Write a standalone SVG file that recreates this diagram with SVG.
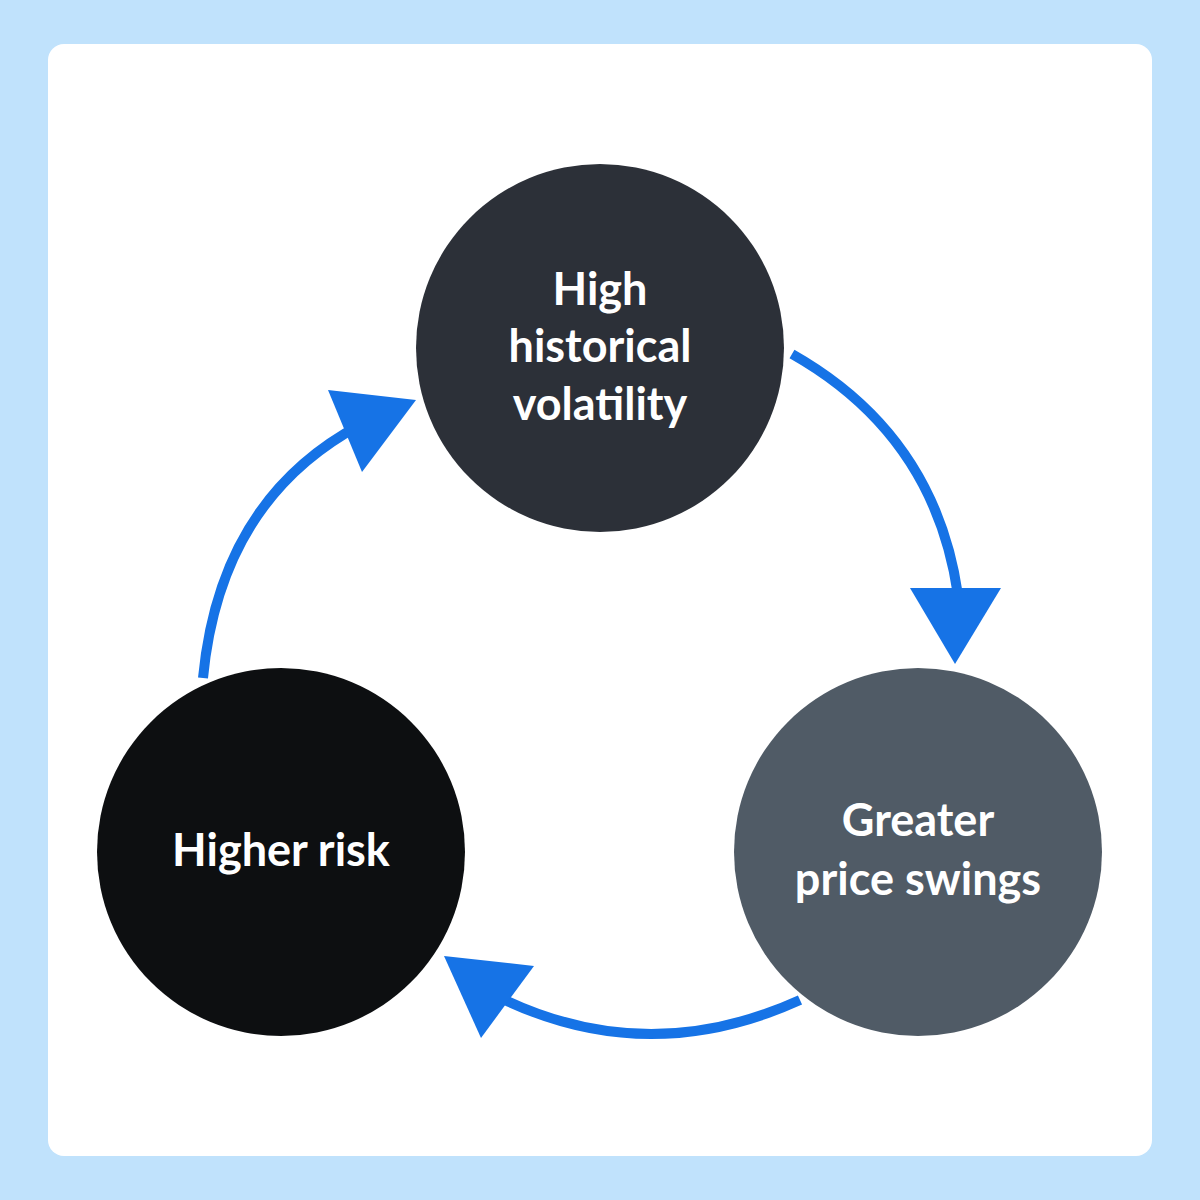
<svg xmlns="http://www.w3.org/2000/svg" width="1200" height="1200" viewBox="0 0 1200 1200">
<style>
.t{font-family:Lato,"Open Sans",sans-serif;font-weight:bold;font-size:45px;fill:#fff;text-anchor:middle}
.c{fill:none;stroke:#1673e6;stroke-width:10}
.h{fill:#1673e6}
</style>
<rect width="1200" height="1200" fill="#c0e2fc"/>
<rect x="48" y="44" width="1104" height="1112" rx="16" fill="#fff"/>
<g id="connectors">
<path class="c" d="M792,354 Q935,435 958,595"/>
<polygon class="h" points="910,588 1001,588 955,664"/>
<path class="c" d="M800,1000 Q650,1068 505,1000"/>
<polygon class="h" points="534,966 444,956 481,1038"/>
<path class="c" d="M203,678 Q220,500 360,425"/>
<polygon class="h" points="328,390 416,400 362,472"/>
</g>
<g id="n1"><circle cx="600" cy="348" r="184" fill="#2c3038"/>
<text class="t" x="600" y="305">High</text><text class="t" x="600" y="362">historical</text><text class="t" x="600" y="420">volatility</text></g>
<g id="n2"><circle cx="918" cy="852" r="184" fill="#505b66"/>
<text class="t" x="918" y="836">Greater</text><text class="t" x="918" y="895">price swings</text></g>
<g id="n3"><circle cx="281" cy="852" r="184" fill="#0d0f11"/>
<text class="t" x="281" y="866">Higher risk</text></g>
</svg>
